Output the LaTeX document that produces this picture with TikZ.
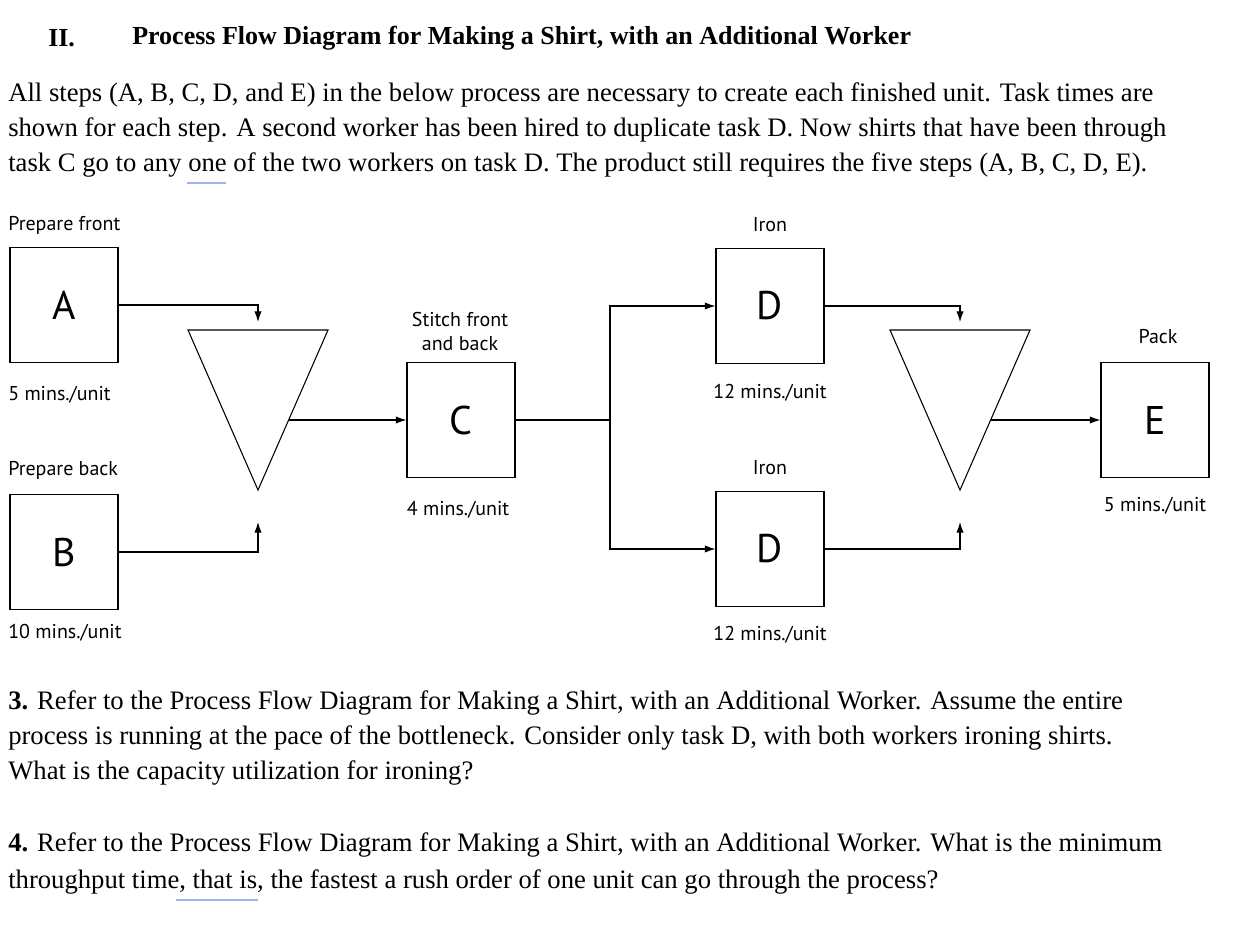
\documentclass[tikz,border=0pt]{standalone}
\usepackage{fontspec}
\setmainfont{Liberation Serif}
\newfontfamily\diafont{PT Sans}
\usetikzlibrary{arrows.meta}
\tikzset{
  txt/.style={anchor=west,inner sep=0pt,font=\fontsize{20}{24}\selectfont},
  lbl/.style={inner sep=0pt,font=\diafont\fontsize{15}{18}\selectfont,align=center},
  task/.style={draw,thick,minimum width=81pt,minimum height=86pt,inner sep=0pt,font=\diafont\fontsize{30}{33}\selectfont},
  flow/.style={thick,-{Latex[length=8pt,width=5.5pt]}},
  spell/.style={color={rgb,255:red,150; green,185; blue,235},line width=2pt}
}
\begin{document}
\begin{tikzpicture}[x=0.75pt,y=-0.75pt]
    \useasboundingbox (0,0) rectangle (1244,924);
    % heading and text
    \node[txt,font=\bfseries\fontsize{19.5}{22}\selectfont] (num) at (48,38) {II.};
    \node[txt,font=\bfseries\fontsize{19.5}{22}\selectfont] (title) at (132,38) {Process Flow Diagram for Making a Shirt, with an Additional Worker};
    \node[txt] (p1) at (8,95) {All steps (A, B, C, D, and E) in the below process are necessary to create each finished unit. Task times are};
    \node[txt] (p2) at (8,130) {shown for each step. A second worker has been hired to duplicate task D. Now shirts that have been through};
    \node[txt] (p3) at (8,165) {task C go to any one of the two workers on task D. The product still requires the five steps (A, B, C, D, E).};
    \draw[spell] (187,183) -- (226,183);

    % tasks
    \node[task] (A) at (64,305) {A};
    \node[task] (B) at (64,552) {B};
    \node[task] (C) at (461,420) {C};
    \node[task] (D1) at (770,306) {D};
    \node[task] (D2) at (770,549) {D};
    \node[task] (E) at (1155,420) {E};

    % inventory triangles
    \draw[thick] (188,330) -- (328,330) -- (258,490) -- cycle;
    \draw[thick] (890,330) -- (1030,330) -- (960,490) -- cycle;
    \coordinate (t1in) at (258,322);
    \coordinate (t1up) at (258,522);
    \coordinate (t1out) at (289,420);
    \coordinate (t2in) at (960,322);
    \coordinate (t2up) at (960,522);
    \coordinate (t2out) at (991,420);
    \coordinate (split) at (610,420);

    % labels
    \node[lbl,anchor=west] (la) at (8,225) {Prepare front};
    \node[lbl,anchor=west] (ta) at (8,395) {5 mins./unit};
    \node[lbl,anchor=west] (lb) at (8,470) {Prepare back};
    \node[lbl,anchor=west] (tb) at (8,633) {10 mins./unit};
    \node[lbl] (lc) at (460,331) {Stitch front\\and back};
    \node[lbl] (tc) at (458,510) {4 mins./unit};
    \node[lbl] (ld1) at (770,225) {Iron};
    \node[lbl] (td1) at (770,393) {12 mins./unit};
    \node[lbl] (ld2) at (770,468) {Iron};
    \node[lbl] (td2) at (770,635) {12 mins./unit};
    \node[lbl] (le) at (1158,337) {Pack};
    \node[lbl] (te) at (1155,506) {5 mins./unit};

    % connectors
    \draw[flow] (A.east) -| (t1in);
    \draw[flow] (B.east) -| (t1up);
    \draw[flow] (t1out) -- (C.west);
    \draw[thick] (C.east) -- (split);
    \draw[flow] (split) |- (D1.west);
    \draw[flow] (split) |- (D2.west);
    \draw[flow] (D1.east) -| (t2in);
    \draw[flow] (D2.east) -| (t2up);
    \draw[flow] (t2out) -- (E.west);

    % questions
    \node[txt] (q3a) at (8,703) {\textbf{3.} Refer to the Process Flow Diagram for Making a Shirt, with an Additional Worker. Assume the entire};
    \node[txt] (q3b) at (8,738) {process is running at the pace of the bottleneck. Consider only task D, with both workers ironing shirts.};
    \node[txt] (q3c) at (8,773) {What is the capacity utilization for ironing?};
    \node[txt] (q4a) at (8,845) {\textbf{4.} Refer to the Process Flow Diagram for Making a Shirt, with an Additional Worker. What is the minimum};
    \node[txt] (q4b) at (8,882) {throughput time, that is, the fastest a rush order of one unit can go through the process?};
    \draw[spell] (176,900) -- (258,900);
\end{tikzpicture}
\end{document}
